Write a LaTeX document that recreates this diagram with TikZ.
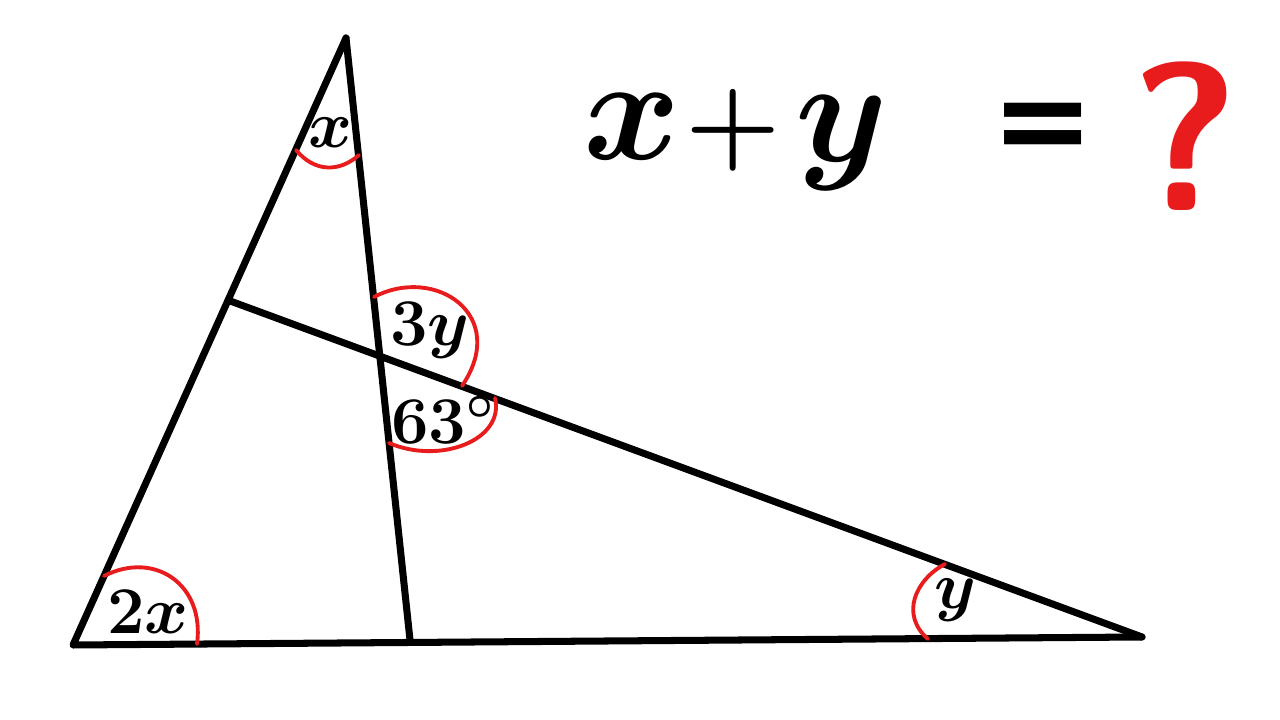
\RequirePackage{fix-cm}
\documentclass[tikz,border=0pt]{standalone}
\usepackage{fontspec}
\newfontfamily\signfont{DejaVu Sans}
\usepackage{tikz}
\usetikzlibrary{calc,positioning}
\usepackage{amsmath}
\definecolor{markred}{RGB}{232,28,28}
\tikzstyle{side} = [draw=black, line width=2pt, line cap=round, line join=round]
\tikzstyle{anglemark} = [draw=markred, line width=1.1pt, line cap=round]
\tikzstyle{anglelabel} = [inner sep=0pt, font=\boldmath\fontsize{19}{22}\selectfont]
\tikzstyle{bigterm} = [inner sep=0pt, font=\boldmath\fontsize{42}{48}\selectfont]
\tikzstyle{bigsign} = [inner sep=0pt, font=\boldmath\fontsize{31}{36}\selectfont]
\begin{document}
\begin{tikzpicture}[line join=round]
            %    \useasboundingbox (0,0) rectangle (12.8,7.2);
            \fill[white] (0,0) rectangle (12.8,7.2);
            \useasboundingbox (0,0) rectangle (12.8,7.2);
            \coordinate (Apex) at (3.46,6.82);
            \coordinate (BaseLeft) at (0.73,0.75);
            \coordinate (BaseRight) at (11.42,0.83);
            \coordinate (Foot) at (4.10,0.80);
            \coordinate (SidePt) at ($(BaseLeft)!0.568!(Apex)$);
            \coordinate (Cross) at (intersection of Apex--Foot and SidePt--BaseRight);
            \draw[side] (Apex) -- (BaseLeft) -- (BaseRight);
            \draw[side] (Apex) -- (Foot);
            \draw[side] (SidePt) -- (BaseRight);
            % angle marks
            \draw[anglemark] (2.96,5.70) .. controls (3.15,5.47) and (3.40,5.48) .. (3.59,5.65);
            \draw[anglemark] (1.04,1.44) .. controls (1.55,1.70) and (2.05,1.35) .. (1.97,0.76);
            \draw[anglemark] (9.45,1.56) .. controls (9.15,1.40) and (9.00,1.05) .. (9.28,0.81);
            \draw[anglemark] (3.74,4.23) .. controls (4.35,4.55) and (5.10,4.05) .. (4.62,3.34);
            \draw[anglemark] (4.95,3.22) .. controls (5.05,2.80) and (4.40,2.55) .. (3.89,2.77);
            \node (ApexLbl) [anglelabel] at (3.30,5.87) {$x$};
            \node (LeftLbl) [anglelabel] at (1.48,1.08) {$2x$};
            \node (RightLbl) [anglelabel] at (9.55,1.20) {$y$};
            \node (UpperLbl) [anglelabel] at (4.30,3.90) {$3y$};
            \node (LowerLbl) [anglelabel] at (4.43,3.00) {$63^\circ$};
            \node (TermX) [bigterm] at (6.32,5.93) {$x$};
            \node (Plus) [bigsign] at (7.33,5.90) {$+$};
            \node (TermY) [bigterm] at (8.42,5.77) {$y$};
            \node (Equals) [inner sep=0pt, font=\signfont\bfseries\fontsize{35}{40}\selectfont] at (10.43,5.87) {=};
            \node (Query) [inner sep=0pt, text=markred, font=\sffamily\bfseries\fontsize{60}{66}\selectfont] at (11.85,5.84) {?};
        \end{tikzpicture}
\end{document}
